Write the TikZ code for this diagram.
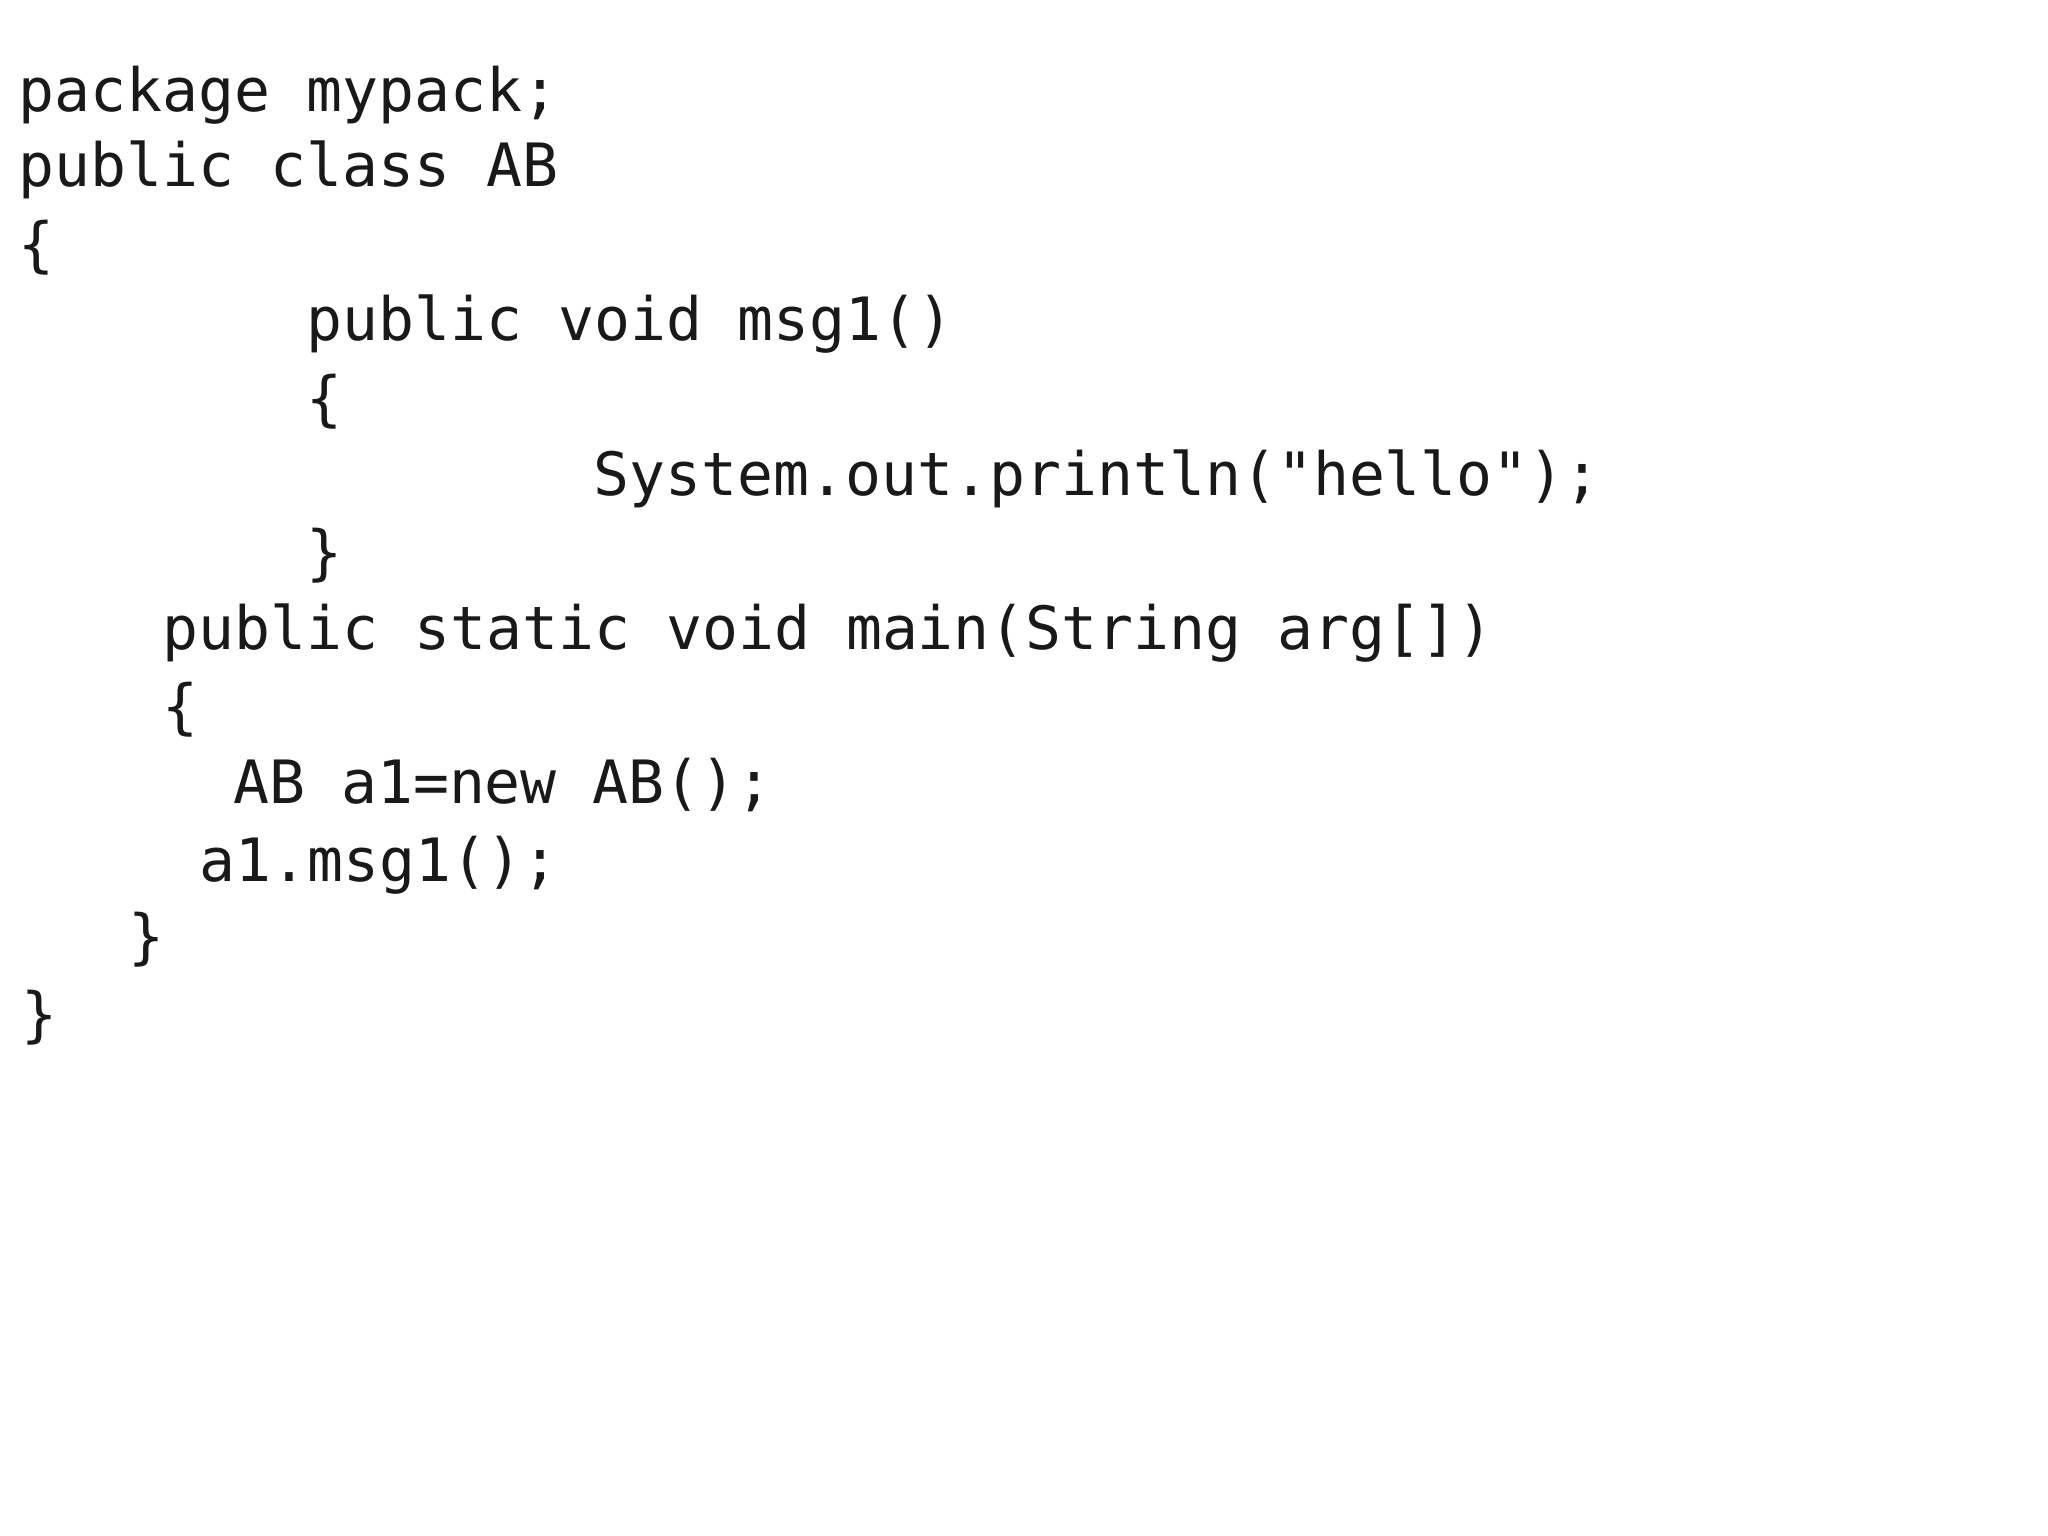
\documentclass[tikz,border=0pt]{standalone}
\usepackage{fontspec}
\newfontfamily\codefont{DejaVu Sans Mono}
\begin{document}
\begin{tikzpicture}[x=0.01306cm,y=-0.01306cm,
  code/.style={anchor=base west,inner sep=0pt,font=\codefont\fontsize{17pt}{20pt}\selectfont,text=black!90}]
\useasboundingbox[fill=white] (0,0) rectangle (1568,1176);
\node[code] (l1) at (14,85) {package mypack;};
\node[code] (l2) at (14,143) {public class AB};
\node[code] (l3) at (14,203) {\{};
\node[code] (l4) at (234,261) {public void msg1()};
\node[code] (l5) at (234,321) {\{};
\node[code] (l6) at (454,379) {System.out.println("hello");};
\node[code] (l7) at (234,439) {\}};
\node[code] (l8) at (124,497) {public static void main(String arg[])};
\node[code] (l9) at (124,557) {\{};
\node[code] (l10) at (178,615) {AB a1=new AB();};
\node[code] (l11) at (152,675) {a1.msg1();};
\node[code] (l12) at (98,733) {\}};
\node[code] (l13) at (16,793) {\}};
\end{tikzpicture}
\end{document}
